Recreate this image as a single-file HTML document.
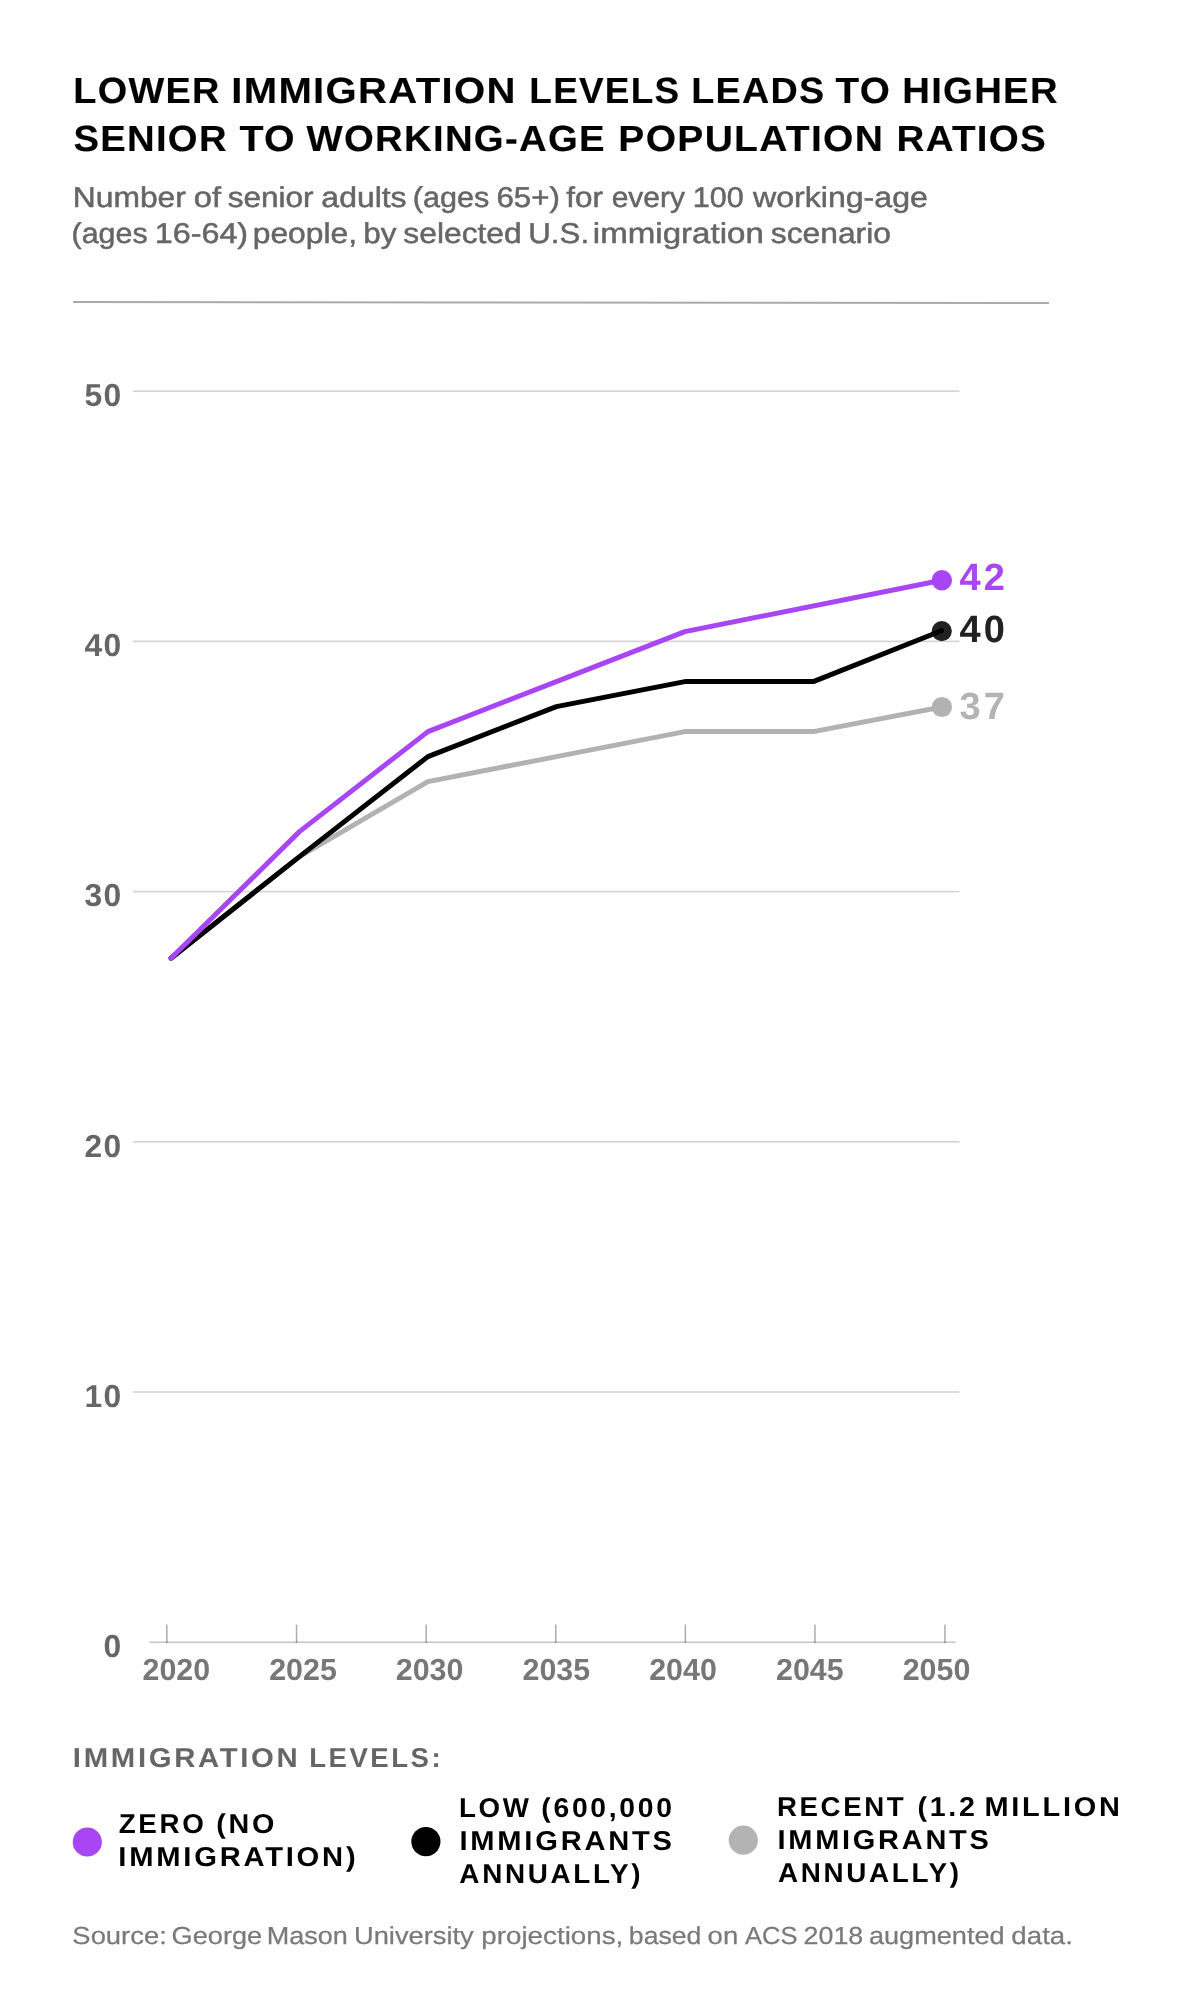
<!DOCTYPE html>
<html lang="en">
<head>
<meta charset="utf-8">
<title>Lower immigration levels leads to higher senior to working-age population ratios</title>
<style>
html,body{margin:0;padding:0;background:#fff;}
body{width:1200px;height:2006px;overflow:hidden;position:relative;}
svg{position:absolute;left:0;top:0;display:block;will-change:transform;}
</style>
</head>
<body>
<svg width="1200" height="2006" viewBox="0 0 1200 2006" text-rendering="geometricPrecision">
<g font-family="'Liberation Sans', Arial, sans-serif">
  <text y="103.4" font-weight="700" font-size="36.4" fill="#000000" letter-spacing="1.2" stroke="#000000" stroke-width="0.15"><tspan x="73.32" textLength="147.22" lengthAdjust="spacingAndGlyphs">LOWER</tspan> <tspan x="231.20" textLength="285.56" lengthAdjust="spacingAndGlyphs">IMMIGRATION</tspan> <tspan x="529.37" textLength="150.92" lengthAdjust="spacingAndGlyphs">LEVELS</tspan> <tspan x="691.33" textLength="134.10" lengthAdjust="spacingAndGlyphs">LEADS</tspan> <tspan x="835.60" textLength="55.57" lengthAdjust="spacingAndGlyphs">TO</tspan> <tspan x="902.30" textLength="156.53" lengthAdjust="spacingAndGlyphs">HIGHER</tspan></text>
  <text y="151.0" font-weight="700" font-size="36.4" fill="#000000" letter-spacing="1.2" stroke="#000000" stroke-width="0.15"><tspan x="73.45" textLength="154.38" lengthAdjust="spacingAndGlyphs">SENIOR</tspan> <tspan x="239.50" textLength="56.46" lengthAdjust="spacingAndGlyphs">TO</tspan> <tspan x="306.60" textLength="299.21" lengthAdjust="spacingAndGlyphs">WORKING-AGE</tspan> <tspan x="618.36" textLength="265.80" lengthAdjust="spacingAndGlyphs">POPULATION</tspan> <tspan x="896.58" textLength="150.38" lengthAdjust="spacingAndGlyphs">RATIOS</tspan></text>
  <text y="206.9" font-weight="400" font-size="28.6" fill="#666666" stroke="#666666" stroke-width="0.5"><tspan x="72.78" textLength="113.14" lengthAdjust="spacingAndGlyphs">Number</tspan> <tspan x="193.86" textLength="27.23" lengthAdjust="spacingAndGlyphs">of</tspan> <tspan x="227.65" textLength="85.98" lengthAdjust="spacingAndGlyphs">senior</tspan> <tspan x="321.38" textLength="85.22" lengthAdjust="spacingAndGlyphs">adults</tspan> <tspan x="412.86" textLength="76.46" lengthAdjust="spacingAndGlyphs">(ages</tspan> <tspan x="496.41" textLength="63.47" lengthAdjust="spacingAndGlyphs">65+)</tspan> <tspan x="566.25" textLength="36.66" lengthAdjust="spacingAndGlyphs">for</tspan> <tspan x="611.70" textLength="73.22" lengthAdjust="spacingAndGlyphs">every</tspan> <tspan x="692.87" textLength="50.90" lengthAdjust="spacingAndGlyphs">100</tspan> <tspan x="753.00" textLength="174.86" lengthAdjust="spacingAndGlyphs">working-age</tspan></text>
  <text y="243.4" font-weight="400" font-size="28.6" fill="#666666" stroke="#666666" stroke-width="0.5"><tspan x="71.63" textLength="75.94" lengthAdjust="spacingAndGlyphs">(ages</tspan> <tspan x="154.74" textLength="93.38" lengthAdjust="spacingAndGlyphs">16-64)</tspan> <tspan x="252.78" textLength="104.24" lengthAdjust="spacingAndGlyphs">people,</tspan> <tspan x="363.30" textLength="33.17" lengthAdjust="spacingAndGlyphs">by</tspan> <tspan x="403.39" textLength="118.29" lengthAdjust="spacingAndGlyphs">selected</tspan> <tspan x="528.31" textLength="60.81" lengthAdjust="spacingAndGlyphs">U.S.</tspan> <tspan x="592.89" textLength="170.97" lengthAdjust="spacingAndGlyphs">immigration</tspan> <tspan x="770.89" textLength="120.02" lengthAdjust="spacingAndGlyphs">scenario</tspan></text>
  <text y="1767" font-weight="700" font-size="27.4" fill="#666666" letter-spacing="2.5"><tspan x="72.86" textLength="227.59" lengthAdjust="spacingAndGlyphs">IMMIGRATION</tspan> <tspan x="309.19" textLength="133.91" lengthAdjust="spacingAndGlyphs">LEVELS:</tspan></text>
  <text y="1832.9" font-weight="700" font-size="27.3" fill="#000000" letter-spacing="2.6"><tspan x="118.73" textLength="87.76" lengthAdjust="spacingAndGlyphs">ZERO</tspan> <tspan x="216.20" textLength="60.85" lengthAdjust="spacingAndGlyphs">(NO</tspan></text>
  <text y="1865.75" font-weight="700" font-size="27.3" fill="#000000" letter-spacing="2.6"><tspan x="118.26" textLength="240.18" lengthAdjust="spacingAndGlyphs">IMMIGRATION)</tspan></text>
  <text y="1817" font-weight="700" font-size="27.3" fill="#000000" letter-spacing="2.6"><tspan x="458.97" textLength="72.55" lengthAdjust="spacingAndGlyphs">LOW</tspan> <tspan x="541.36" textLength="133.33" lengthAdjust="spacingAndGlyphs">(600,000</tspan></text>
  <text y="1850" font-weight="700" font-size="27.3" fill="#000000" letter-spacing="2.6"><tspan x="459.47" textLength="215.30" lengthAdjust="spacingAndGlyphs">IMMIGRANTS</tspan></text>
  <text y="1883" font-weight="700" font-size="27.3" fill="#000000" letter-spacing="2.6"><tspan x="459.38" textLength="183.81" lengthAdjust="spacingAndGlyphs">ANNUALLY)</tspan></text>
  <text y="1815.5" font-weight="700" font-size="27.3" fill="#000000" letter-spacing="2.6"><tspan x="776.98" textLength="129.39" lengthAdjust="spacingAndGlyphs">RECENT</tspan> <tspan x="917.45" textLength="60.15" lengthAdjust="spacingAndGlyphs">(1.2</tspan> <tspan x="984.48" textLength="138.19" lengthAdjust="spacingAndGlyphs">MILLION</tspan></text>
  <text y="1848.5" font-weight="700" font-size="27.3" fill="#000000" letter-spacing="2.6"><tspan x="777.48" textLength="214.16" lengthAdjust="spacingAndGlyphs">IMMIGRANTS</tspan></text>
  <text y="1881.5" font-weight="700" font-size="27.3" fill="#000000" letter-spacing="2.6"><tspan x="777.98" textLength="183.71" lengthAdjust="spacingAndGlyphs">ANNUALLY)</tspan></text>
  <text y="1944.4" font-weight="400" font-size="24.6" fill="#7a7a7a" stroke="#7a7a7a" stroke-width="0.25"><tspan x="72.39" textLength="94.38" lengthAdjust="spacingAndGlyphs">Source:</tspan> <tspan x="171.60" textLength="90.54" lengthAdjust="spacingAndGlyphs">George</tspan> <tspan x="266.80" textLength="81.11" lengthAdjust="spacingAndGlyphs">Mason</tspan> <tspan x="354.03" textLength="119.68" lengthAdjust="spacingAndGlyphs">University</tspan> <tspan x="481.37" textLength="141.89" lengthAdjust="spacingAndGlyphs">projections,</tspan> <tspan x="628.83" textLength="72.57" lengthAdjust="spacingAndGlyphs">based</tspan> <tspan x="707.58" textLength="30.64" lengthAdjust="spacingAndGlyphs">on</tspan> <tspan x="745.00" textLength="52.60" lengthAdjust="spacingAndGlyphs">ACS</tspan> <tspan x="803.61" textLength="59.67" lengthAdjust="spacingAndGlyphs">2018</tspan> <tspan x="868.90" textLength="135.79" lengthAdjust="spacingAndGlyphs">augmented</tspan> <tspan x="1011.38" textLength="61.54" lengthAdjust="spacingAndGlyphs">data.</tspan></text>
</g>
  <!-- separator -->
  <line x1="73" y1="302.05" x2="1049" y2="302.95" stroke="#aaaaaa" stroke-width="2"/>
  <!-- gridlines -->
  <g fill="#d5d5d5">
    <rect x="133" y="390.35" width="826.5" height="1.7"/>
    <rect x="133" y="640.55" width="826.5" height="1.7"/>
    <rect x="133" y="890.75" width="826.5" height="1.7"/>
    <rect x="133" y="1140.95" width="826.5" height="1.7"/>
    <rect x="133" y="1391.15" width="826.5" height="1.7"/>
  </g>
  <!-- x axis -->
  <rect x="149.6" y="1641.4" width="806" height="1.7" fill="#000" fill-opacity="0.21"/>
  <g fill="#000" fill-opacity="0.33">
    <rect x="166.1" y="1624.6" width="1.5" height="18.5"/>
    <rect x="295.8" y="1624.6" width="1.5" height="18.5"/>
    <rect x="425.4" y="1624.6" width="1.5" height="18.5"/>
    <rect x="555.0" y="1624.6" width="1.5" height="18.5"/>
    <rect x="684.6" y="1624.6" width="1.5" height="18.5"/>
    <rect x="814.2" y="1624.6" width="1.5" height="18.5"/>
    <rect x="944.2" y="1624.6" width="1.5" height="18.5"/>
  </g>
  <!-- y labels -->
  <g font-family="'Liberation Sans', Arial, sans-serif" font-weight="700" font-size="31.8" fill="#666666" text-anchor="end" letter-spacing="1.2">
    <text x="122.4" y="406.2">50</text>
    <text x="122.4" y="656.3">40</text>
    <text x="122.4" y="906.4">30</text>
    <text x="122.4" y="1156.6">20</text>
    <text x="122.4" y="1406.7">10</text>
    <text x="122.4" y="1657">0</text>
  </g>
  <!-- x labels -->
  <g font-family="'Liberation Sans', Arial, sans-serif" font-weight="700" font-size="30.4" fill="#777777" text-anchor="middle">
    <text x="176.3" y="1679.6">2020</text>
    <text x="303" y="1679.6">2025</text>
    <text x="429.6" y="1679.6">2030</text>
    <text x="556.3" y="1679.6">2035</text>
    <text x="683" y="1679.6">2040</text>
    <text x="809.8" y="1679.6">2045</text>
    <text x="936.5" y="1679.6">2050</text>
  </g>
  <!-- end dots -->
  <circle cx="941.9" cy="707" r="10.1" fill="#b2b2b2"/>
  <circle cx="941.75" cy="631.1" r="10.1" fill="#222222"/>
  <circle cx="941.85" cy="580.25" r="10.2" fill="#a845f5"/>
  <!-- lines -->
  <g fill="none" stroke-width="5" stroke-linejoin="round" stroke-linecap="round">
    <polyline stroke="#b2b2b2" points="171.00,958.2 299.46,856.60 427.92,781.60 556.38,756.60 684.83,731.60 813.29,731.60 941.9,707"/>
    <polyline stroke="#000000" points="171.00,958.2 299.46,856.60 427.92,756.60 556.38,706.60 684.83,681.60 813.29,681.60 941.5,630.7"/>
    <polyline stroke="#a845f5" points="171.00,958.2 299.46,831.60 427.92,731.60 556.38,681.60 684.83,631.60 941.85,580.25"/>
  </g>
  <g font-family="'Liberation Sans', Arial, sans-serif" font-weight="700" font-size="38" letter-spacing="2.9">
    <text x="959.6" y="589.9" fill="#a845f5">42</text>
    <text x="959.6" y="642.4" fill="#222222">40</text>
    <text x="959.6" y="718.9" fill="#b3b3b3">37</text>
  </g>
  <!-- legend swatches -->
  <circle cx="87.3" cy="1842" r="14.6" fill="#a845f5"/>
  <circle cx="425.9" cy="1841.6" r="14.6" fill="#000000"/>
  <circle cx="743.3" cy="1840.2" r="14.6" fill="#b3b3b3"/>

</svg>
</body>
</html>
